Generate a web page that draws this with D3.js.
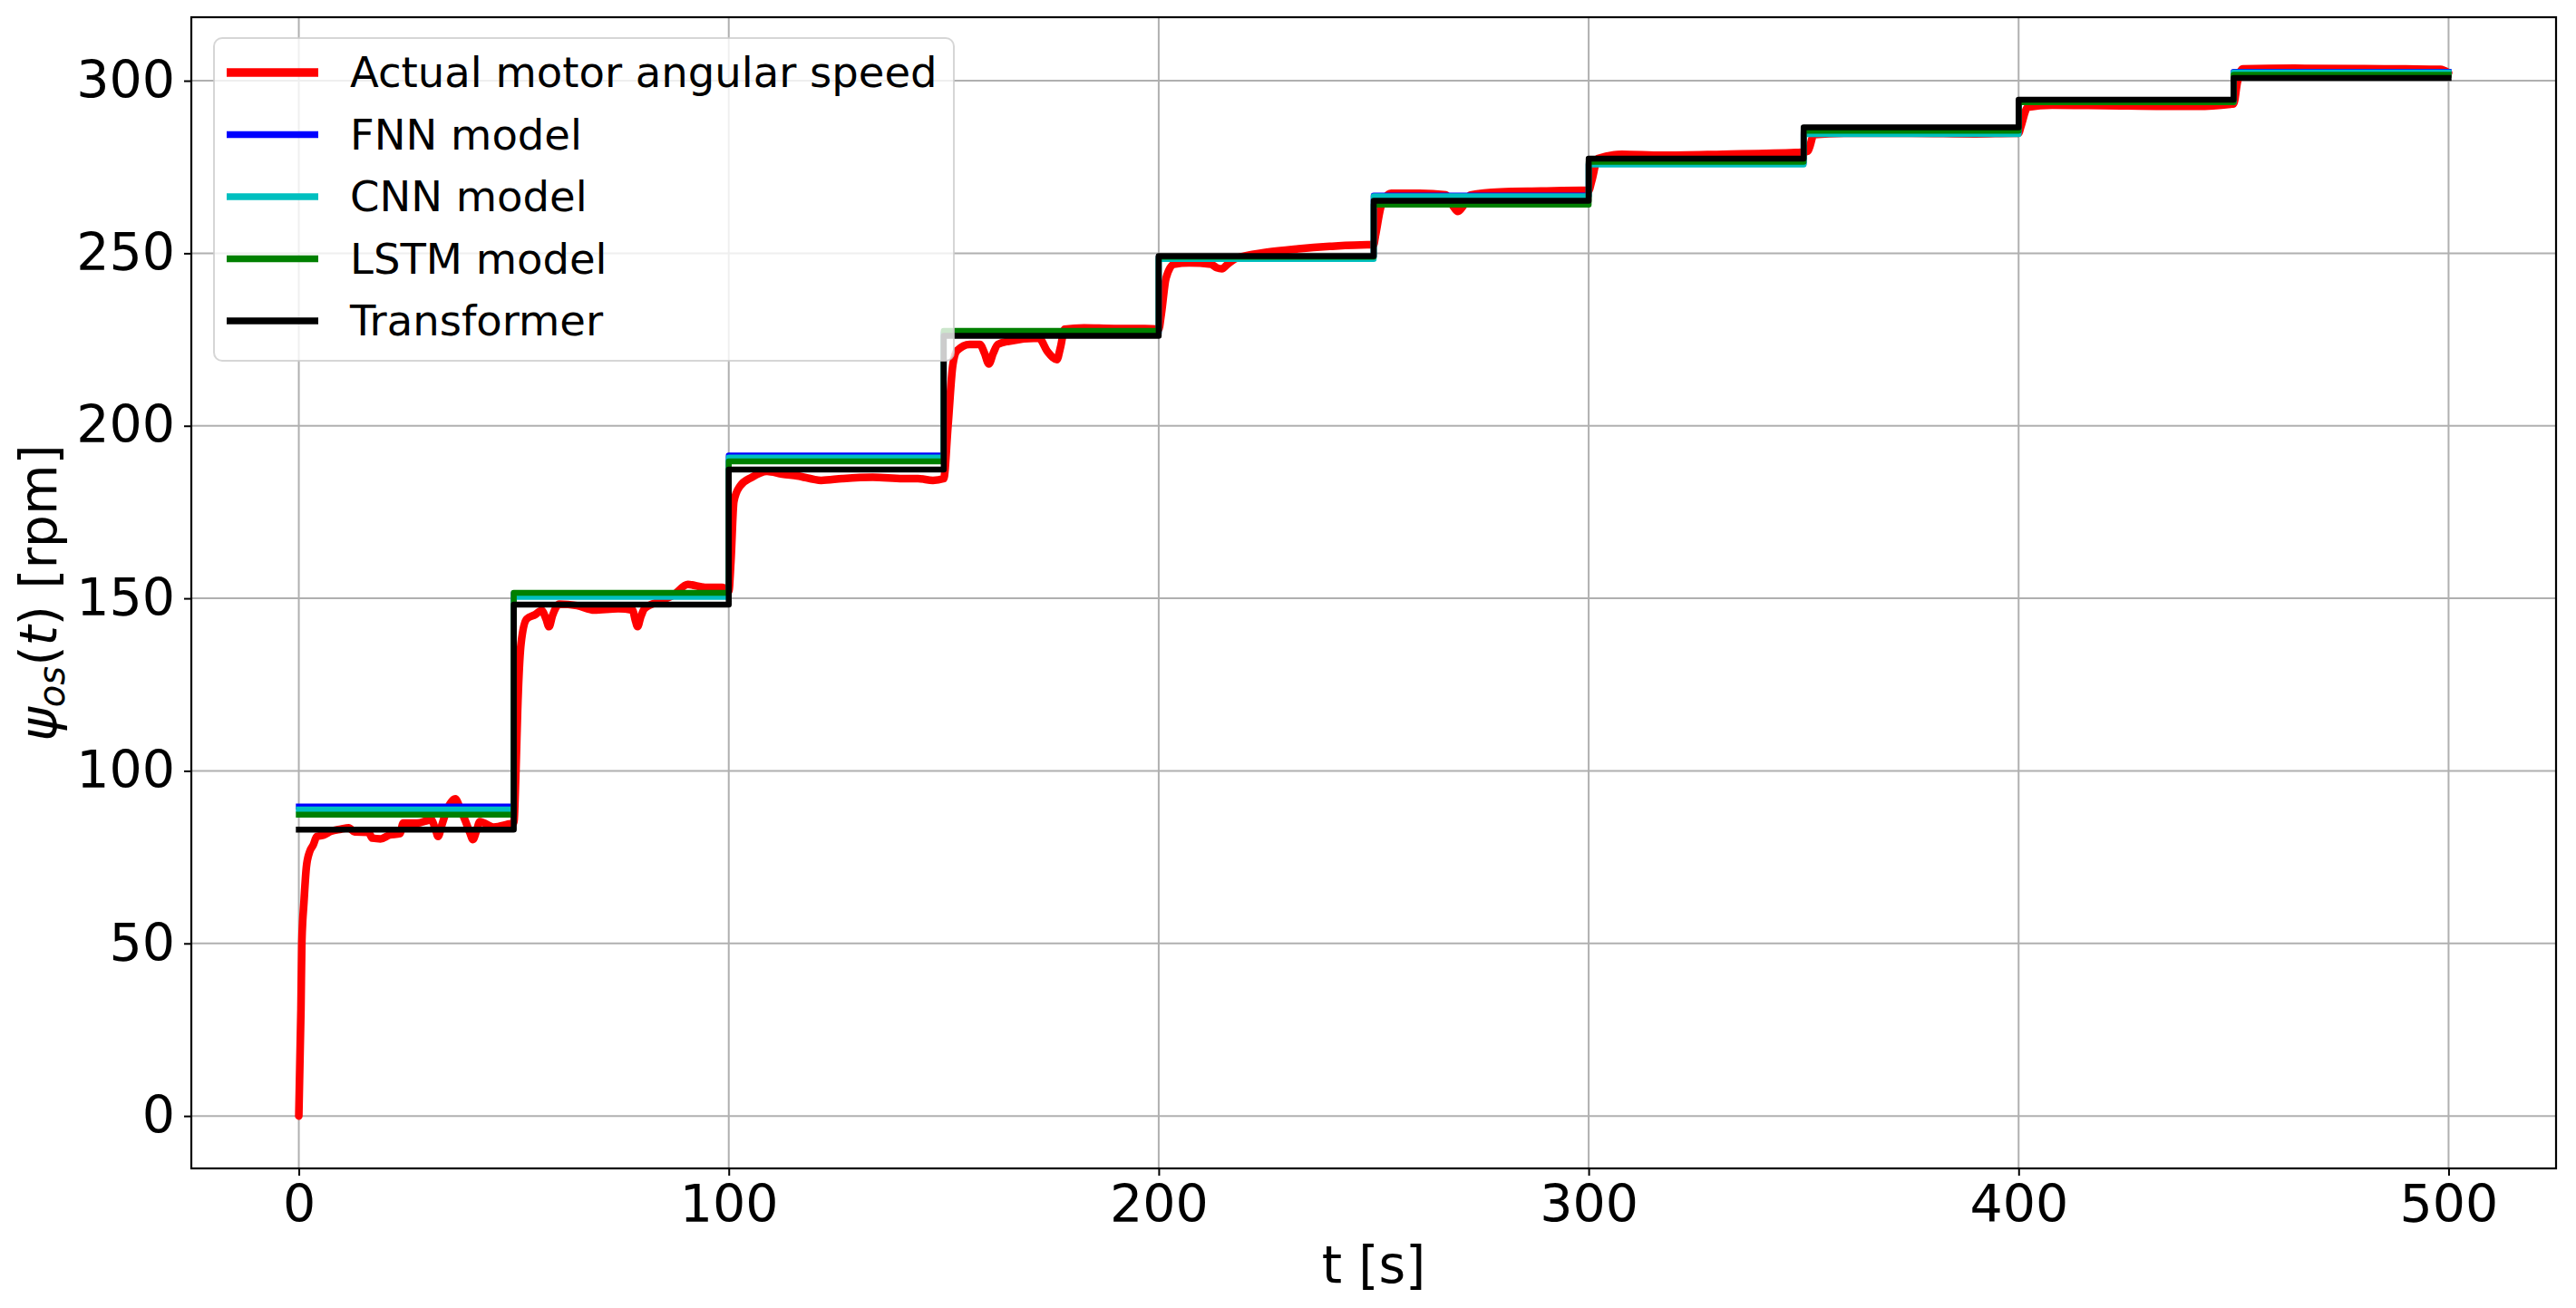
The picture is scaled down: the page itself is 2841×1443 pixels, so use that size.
<!DOCTYPE html>
<html>
<head>
<meta charset="utf-8">
<script src="https://cdn.jsdelivr.net/npm/d3@7"></script>
<style>
  html, body { margin: 0; padding: 0; background: white; }
  svg { display: block; font-family: 'DejaVu Sans', sans-serif; }
</style>
</head>
<body>
<div id="chart"></div>
<script>
// Step times (each model holds its value until the next step)
const stepT = [0, 50, 100, 150, 200, 250, 300, 350, 400, 450, 500];

// Model predictions per step (last value repeated for the end of the final step)
const fnnV = [89.7, 151.5, 191.4, 227.0, 249.0, 266.7, 276.0, 285.0, 294.0, 302.6, 302.6];
const cnnV = [88.8, 150.4, 190.8, 226.8, 248.3, 266.5, 275.7, 284.5, 293.8, 302.4, 302.4];
const lstmV = [87.3, 151.6, 189.7, 227.5, 249.0, 264.1, 276.5, 285.5, 293.8, 301.7, 301.7];
const transV = [83.0, 148.2, 187.3, 226.1, 249.2, 265.2, 277.4, 286.5, 294.5, 300.8, 300.8];

const actualT = [0, 0.5, 0.7, 1.2, 1.75, 2.5, 3.35, 4.2, 5.8, 7.5, 9.8, 11.6, 13, 16.2, 17.1, 19, 21.1, 23.5, 24.3, 27.5,
  30.8, 31.8, 32.4, 33.2, 34, 35.2, 36.4, 37.6, 38.8, 39.8, 40.5, 41.3, 42.1, 45.3, 48.5, 50,
  50.5, 50.9, 51.7, 53, 55, 56.5, 57.5, 58.2, 59, 60.6, 64.7, 68.7, 74.3, 77.6, 78.3, 78.8, 79.5, 80.4, 84, 87.2,
  90.5, 94.5, 98.5, 100,
  100.5, 101.2, 102.6, 105.4, 108.9, 112.4, 115.9, 121.5, 126.4, 133.5, 140.5, 144, 147.5, 150,
  151, 152.1, 153.1, 156, 158.4, 159.5, 160.5, 161.5, 162.6, 165.1, 172.1, 174.2, 176.3, 177.2, 178.1, 182.6,
  189.7, 196.7, 200,
  200.6, 201.7, 203.5, 207.1, 212.2, 213.5, 214.7, 216, 218, 225.2, 232.5, 239.8, 248.5, 250,
  250.4, 251.8, 254.1, 260.7, 266.8, 268.3, 269.6, 271, 272.5, 279.5, 288.9, 298.3, 300,
  300.7, 302.1, 307.7, 317.1, 331.3, 348.2, 350,
  351, 352.4, 360, 375, 390, 399, 400,
  400.5, 402.1, 407.8, 420, 433.6, 441.6, 449.3, 450,
  450.9, 452.1, 464.2, 480.3, 490, 498.1, 500];
const actualV = [0, 31, 50, 62, 72, 76.5, 78.5, 81, 81.4, 82.5, 83.1, 83.5, 82.3, 82.2, 80.5, 80.3, 81.4, 81.8, 84.9, 84.9,
  85.8, 83, 81, 84, 87.1, 90.5, 91.9, 88.8, 85.3, 82, 80.1, 82.5, 85.3, 83.7, 84.5, 85,
  100, 117.7, 137, 144, 145.3, 146.5, 144, 141.8, 145, 148.3, 147.9, 146.6, 147, 146.6, 143.5, 141.8, 144.5, 147, 149.2, 151,
  154, 153.2, 153.2, 152,
  160.6, 178.1, 182.5, 185.1, 186.8, 186, 185.5, 184.2, 184.7, 185.1, 184.7, 184.7, 184.2, 184.7,
  200, 217.5, 221.8, 223.6, 223.6, 221, 217.9, 221, 223.6, 224.5, 225.4, 221.4, 219.2, 223, 228, 228.4,
  228.2, 228.2, 228,
  232.3, 242.8, 246.8, 247.2, 246.8, 245.8, 245.5, 246.8, 248.5, 250.3, 251.3, 252, 252.5, 252.5,
  255, 263.9, 267.4, 267.4, 266.9, 264, 262.1, 264, 266.9, 267.8, 268, 268.2, 268.2,
  270.9, 277.4, 278.7, 278.4, 278.7, 279.2, 279.3,
  279.6, 284.4, 284.8, 284.8, 284.6, 284.8, 284.8,
  286.6, 292.3, 292.9, 292.8, 292.6, 292.6, 293.2, 293.3,
  299.7, 303.4, 303.6, 303.5, 303.4, 303.3, 302.3];

// Axis ticks
const xTicks = [0, 100, 200, 300, 400, 500];
const yTicks = [0, 50, 100, 150, 200, 250, 300];

const width = 2841;
const height = 1443;
const margin = { top: 19, right: 22, bottom: 154, left: 211 };

const svg = d3.select('#chart')
  .append('svg')
  .attr('width', width)
  .attr('height', height);

const plotW = width - margin.left - margin.right;
const plotH = height - margin.top - margin.bottom;

const g = svg.append('g')
  .attr('transform', `translate(${margin.left},${margin.top})`);

const x = d3.scaleLinear().domain([-25, 525]).range([0, plotW]);
const y = d3.scaleLinear().domain([-15.2, 318.4]).range([plotH, 0]);

// Grid lines (drawn first so the curves sit on top)
g.append('g')
  .selectAll('line')
  .data(xTicks)
  .join('line')
  .attr('x1', d => x(d)).attr('x2', d => x(d))
  .attr('y1', 0).attr('y2', plotH)
  .attr('stroke', '#b0b0b0')
  .attr('stroke-width', 2);

g.append('g')
  .selectAll('line')
  .data(yTicks)
  .join('line')
  .attr('x1', 0).attr('x2', plotW)
  .attr('y1', d => y(d)).attr('y2', d => y(d))
  .attr('stroke', '#b0b0b0')
  .attr('stroke-width', 2);

// Series definitions
const actual = actualT.map((t, i) => [t, actualV[i]]);
const toSteps = vals => stepT.map((t, i) => [t, vals[i]]);

const series = [
  { name: 'Actual motor angular speed', color: '#ff0000', width: 8.5, pts: actual, step: false },
  { name: 'FNN model', color: '#0000ff', width: 6.5, pts: toSteps(fnnV), step: true },
  { name: 'CNN model', color: '#00bfbf', width: 6.5, pts: toSteps(cnnV), step: true },
  { name: 'LSTM model', color: '#008000', width: 6.5, pts: toSteps(lstmV), step: true },
  { name: 'Transformer', color: '#000000', width: 6.5, pts: toSteps(transV), step: true }
];

const lineSmooth = d3.line().x(d => x(d[0])).y(d => y(d[1])).curve(d3.curveMonotoneX);
const lineStep = d3.line().x(d => x(d[0])).y(d => y(d[1])).curve(d3.curveStepAfter);

series.forEach(s => {
  g.append('path')
    .datum(s.pts)
    .attr('d', s.step ? lineStep : lineSmooth)
    .attr('fill', 'none')
    .attr('stroke', s.color)
    .attr('stroke-width', s.width)
    .attr('stroke-linejoin', 'round')
    .attr('stroke-linecap', s.step ? 'square' : 'round');
});

// Axes
const xAxis = g.append('g')
  .attr('transform', `translate(0,${plotH})`)
  .call(d3.axisBottom(x).tickValues(xTicks).tickSize(8).tickPadding(11).tickSizeOuter(0));

const yAxis = g.append('g')
  .call(d3.axisLeft(y).tickValues(yTicks).tickSize(8).tickPadding(10).tickSizeOuter(0));

[xAxis, yAxis].forEach(a => {
  a.select('.domain').remove();
  a.selectAll('.tick line').attr('stroke', '#000').attr('stroke-width', 2);
  a.selectAll('.tick text')
    .attr('fill', '#000')
    .style('font-family', "'DejaVu Sans', sans-serif")
    .style('font-size', '57px');
});

// Frame
g.append('rect')
  .attr('x', 0).attr('y', 0)
  .attr('width', plotW).attr('height', plotH)
  .attr('fill', 'none')
  .attr('stroke', '#000')
  .attr('stroke-width', 2.2);

// Axis labels
svg.append('text')
  .attr('x', margin.left + plotW / 2)
  .attr('y', 1415)
  .attr('text-anchor', 'middle')
  .style('font-size', '57px')
  .text('t [s]');

const yLabel = svg.append('text')
  .attr('transform', `translate(62,${margin.top + plotH / 2}) rotate(-90)`)
  .attr('text-anchor', 'middle')
  .style('font-size', '57px');
yLabel.append('tspan').style('font-style', 'italic').text('ψ');
yLabel.append('tspan').style('font-style', 'italic').style('font-size', '40px').attr('dy', 9).text('os');
yLabel.append('tspan').attr('dy', -9).text('(');
yLabel.append('tspan').style('font-style', 'italic').text('t');
yLabel.append('tspan').text(') [rpm]');

// Legend
const legend = svg.append('g').attr('transform', 'translate(236,42)');
legend.append('rect')
  .attr('width', 816).attr('height', 356)
  .attr('rx', 9).attr('ry', 9)
  .attr('fill', 'white').attr('fill-opacity', 0.8)
  .attr('stroke', '#cccccc').attr('stroke-opacity', 0.8)
  .attr('stroke-width', 2);

const rowH = 68.5;
const items = legend.selectAll('.legend-item')
  .data(series)
  .join('g')
  .attr('class', 'legend-item')
  .attr('transform', (d, i) => `translate(0,${38 + i * rowH})`);

items.append('line')
  .attr('x1', 14).attr('x2', 115)
  .attr('stroke', d => d.color)
  .attr('stroke-width', d => d.width + 1);

items.append('text')
  .attr('x', 150)
  .attr('y', 16)
  .style('font-size', '46.5px')
  .text(d => d.name);
</script>
</body>
</html>
